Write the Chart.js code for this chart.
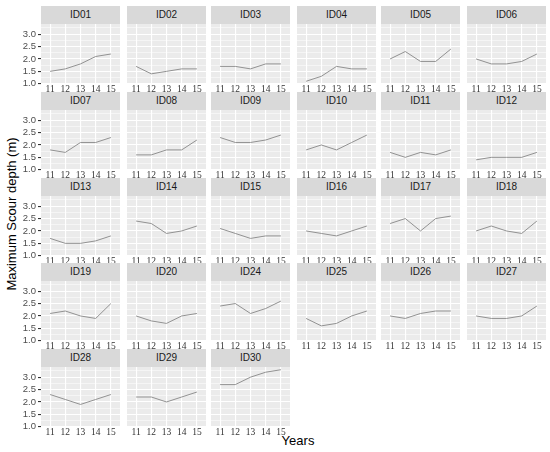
<!DOCTYPE html>
<html lang="en">
<head>
<meta charset="UTF-8">
<title>Maximum Scour depth by ID</title>
<script src="https://cdn.jsdelivr.net/npm/chart.js"></script>
<style>
  body { margin: 0; background: #fff; }
  #wrap { position: relative; width: 550px; height: 452px; overflow: hidden; font-family: "Liberation Sans", Arial, sans-serif; }
  .strip { position: absolute; background: #d9d9d9; color: #1a1a1a; font-size: 10px; text-align: center; }
  canvas { position: absolute; }
  .axis-title { position: absolute; color: #000; font-size: 13px; white-space: nowrap; }
</style>
</head>
<body>
<div id="wrap">
  <div class="axis-title" id="ytitle">Maximum Scour depth (m)</div>
  <div class="axis-title" id="xtitle">Years</div>
</div>

<script>
// data
const years = [11, 12, 13, 14, 15];
const panelIds = ['ID01', 'ID02', 'ID03', 'ID04', 'ID05', 'ID06',
                  'ID07', 'ID08', 'ID09', 'ID10', 'ID11', 'ID12',
                  'ID13', 'ID14', 'ID15', 'ID16', 'ID17', 'ID18',
                  'ID19', 'ID20', 'ID24', 'ID25', 'ID26', 'ID27',
                  'ID28', 'ID29', 'ID30'];
const depths = [
  [1.5, 1.6, 1.8, 2.1, 2.2], [1.7, 1.4, 1.5, 1.6, 1.6], [1.7, 1.7, 1.6, 1.8, 1.8],
  [1.1, 1.3, 1.7, 1.6, 1.6], [2.0, 2.3, 1.9, 1.9, 2.4], [2.0, 1.8, 1.8, 1.9, 2.2],
  [1.8, 1.7, 2.1, 2.1, 2.3], [1.6, 1.6, 1.8, 1.8, 2.2], [2.3, 2.1, 2.1, 2.2, 2.4],
  [1.8, 2.0, 1.8, 2.1, 2.4], [1.7, 1.5, 1.7, 1.6, 1.8], [1.4, 1.5, 1.5, 1.5, 1.7],
  [1.7, 1.5, 1.5, 1.6, 1.8], [2.4, 2.3, 1.9, 2.0, 2.2], [2.1, 1.9, 1.7, 1.8, 1.8],
  [2.0, 1.9, 1.8, 2.0, 2.2], [2.3, 2.5, 2.0, 2.5, 2.6], [2.0, 2.2, 2.0, 1.9, 2.4],
  [2.1, 2.2, 2.0, 1.9, 2.5], [2.0, 1.8, 1.7, 2.0, 2.1], [2.4, 2.5, 2.1, 2.3, 2.6],
  [1.9, 1.6, 1.7, 2.0, 2.2], [2.0, 1.9, 2.1, 2.2, 2.2], [2.0, 1.9, 1.9, 2.0, 2.4],
  [2.3, 2.1, 1.9, 2.1, 2.3], [2.2, 2.2, 2.0, 2.2, 2.4], [2.7, 2.7, 3.0, 3.2, 3.3]
];
const yMajorTicks = [1.0, 1.5, 2.0, 2.5, 3.0];
const yMinorTicks = [1.25, 1.75, 2.25, 2.75, 3.25];

// layout of the facet grid (pixels)
const colLeft = [41, 127, 211, 297, 381, 467];
const rowTop = [6, 92, 178, 263, 349];
const panelW = 79, panelH = 60, stripH = 18, yAxisW = 25, xAxisH = 12;

const isMajor = v => yMajorTicks.some(m => Math.abs(m - v) < 1e-6);
const yAllTicks = yMajorTicks.concat(yMinorTicks).sort((a, b) => a - b);

const noPad = s => { s.paddingTop = 0; s.paddingBottom = 0; s.paddingLeft = 0; s.paddingRight = 0; };

const panelBg = {
  id: 'panelBg',
  beforeDraw(chart) {
    const { ctx, chartArea: a } = chart;
    ctx.save();
    ctx.fillStyle = '#ebebeb';
    ctx.fillRect(a.left, a.top, a.right - a.left, a.bottom - a.top);
    ctx.restore();
  }
};

const wrap = document.getElementById('wrap');

panelIds.forEach((id, i) => {
  const col = i % 6, row = Math.floor(i / 6);
  const first = col === 0;

  const strip = document.createElement('div');
  strip.className = 'strip';
  strip.textContent = id;
  strip.style.left = colLeft[col] + 'px';
  strip.style.top = rowTop[row] + 'px';
  strip.style.width = panelW + 'px';
  strip.style.height = stripH + 'px';
  strip.style.lineHeight = stripH + 'px';
  wrap.appendChild(strip);

  const canvas = document.createElement('canvas');
  const cw = panelW + (first ? yAxisW : 0), ch = panelH + xAxisH;
  canvas.width = cw; canvas.height = ch;
  canvas.style.width = cw + 'px';
  canvas.style.height = ch + 'px';
  canvas.style.left = (colLeft[col] - (first ? yAxisW : 0)) + 'px';
  canvas.style.top = (rowTop[row] + stripH) + 'px';
  wrap.appendChild(canvas);

  new Chart(canvas, {
    type: 'line',
    data: {
      datasets: [{
        data: years.map((x, k) => ({ x: x, y: depths[i][k] })),
        borderColor: '#929292',
        borderWidth: 1,
        pointRadius: 0,
        tension: 0,
        fill: false
      }]
    },
    options: {
      responsive: false,
      animation: false,
      layout: { padding: 0 },
      plugins: { legend: { display: false }, tooltip: { enabled: false } },
      scales: {
        x: {
          type: 'linear',
          min: 10.4,
          max: 15.6,
          afterBuildTicks: s => { s.ticks = years.map(v => ({ value: v })); },
          afterFit: s => { s.height = xAxisH; noPad(s); },
          border: { display: false },
          grid: { color: '#ffffff', lineWidth: 1.1, drawTicks: false },
          ticks: {
            autoSkip: false, maxRotation: 0, padding: 0, color: '#333333',
            font: { family: 'Liberation Serif', size: 9.5 },
            callback: v => String(v)
          }
        },
        y: {
          type: 'linear',
          min: 0.99,
          max: 3.41,
          afterBuildTicks: s => { s.ticks = yAllTicks.map(v => ({ value: v })); },
          afterFit: s => { s.width = first ? yAxisW : 0; noPad(s); },
          border: { display: false },
          grid: {
            color: '#ffffff',
            lineWidth: c => isMajor(c.tick.value) ? 1.1 : 0.5,
            drawTicks: first,
            tickLength: first ? 3 : 0,
            tickColor: c => isMajor(c.tick.value) ? '#333333' : 'rgba(0,0,0,0)'
          },
          ticks: {
            display: first, autoSkip: false, padding: 2, color: '#4d4d4d',
            font: { family: 'Liberation Sans', size: 9.5 },
            callback: v => isMajor(v) ? v.toFixed(1) : ''
          }
        }
      }
    },
    plugins: [panelBg]
  });
});

// axis titles
const yt = document.getElementById('ytitle');
yt.style.left = '11px';
yt.style.top = '214px';
yt.style.transform = 'translate(-50%, -50%) rotate(-90deg)';
const xt = document.getElementById('xtitle');
xt.style.left = '298px';
xt.style.top = '440px';
xt.style.transform = 'translate(-50%, -50%)';
</script>
</body>
</html>
